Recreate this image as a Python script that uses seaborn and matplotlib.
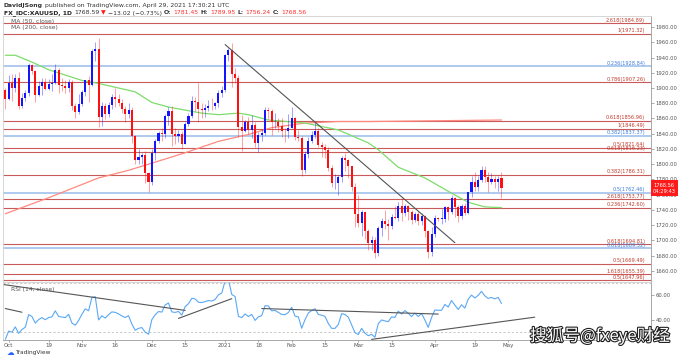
import numpy as np
import pandas as pd
import matplotlib
matplotlib.use("Agg")
import matplotlib.pyplot as plt
import matplotlib.patheffects as pe
import seaborn as sns

# ---- daily XAU/USD candles, Sep 30 2020 -> Apr 29 2021 ----
start_date = "2020-09-30"
end_date = "2021-04-29"
holidays = ["2020-12-25", "2021-01-01"]

opens = [1897,
         1886, 1906, 1900, 1913, 1877, 1887, 1893, 1930, 1922, 1891, 1902, 1908, 1899, 1905, 1907, 1924, 1904, 1902, 1900, 1908, 1877, 1868,
         1879, 1895, 1910, 1904, 1948, 1951, 1862, 1877, 1866, 1878, 1888, 1886, 1880, 1872, 1866, 1871, 1837, 1805, 1810, 1812, 1788,
         1776, 1815, 1830, 1841, 1839, 1863, 1870, 1839, 1837, 1840, 1827, 1853, 1863, 1883, 1881, 1872, 1871, 1874, 1877, 1876, 1880, 1893,
         1898, 1943, 1950, 1918, 1913, 1849, 1844, 1855, 1845, 1851, 1828, 1838, 1841, 1871, 1870, 1855, 1856, 1850, 1844, 1843,
         1848, 1860, 1836, 1834, 1793, 1813, 1831, 1838, 1843, 1825, 1823, 1819, 1795, 1775, 1775, 1783, 1808, 1805, 1797, 1770,
         1734, 1723, 1737, 1712, 1697, 1700, 1683, 1716, 1726, 1722, 1719, 1731, 1729, 1745, 1736, 1745, 1737, 1727, 1735, 1725, 1732, 1712, 1685,
         1708, 1729, 1728, 1728, 1744, 1737, 1756, 1744, 1732, 1745, 1736, 1763, 1777, 1770, 1779, 1793, 1783, 1777, 1780, 1777, 1781.45]
highs = [1900,
         1917, 1918, 1918, 1921, 1893, 1898, 1933, 1932, 1924, 1909, 1913, 1913, 1912, 1918, 1932, 1926, 1913, 1911, 1912, 1911, 1880, 1892,
         1897, 1911, 1916, 1951, 1960, 1965, 1882, 1880, 1882, 1892, 1900, 1892, 1885, 1876, 1880, 1875, 1838, 1820, 1815, 1817, 1790,
         1820, 1833, 1844, 1848, 1866, 1875, 1876, 1848, 1845, 1844, 1855, 1867, 1890, 1888, 1907, 1880, 1879, 1884, 1887, 1882, 1897, 1902,
         1944, 1952, 1959, 1926, 1917, 1864, 1858, 1862, 1865, 1855, 1842, 1846, 1875, 1875, 1872, 1867, 1861, 1860, 1848, 1866,
         1875, 1862, 1845, 1837, 1817, 1836, 1843, 1855, 1847, 1829, 1826, 1822, 1799, 1787, 1786, 1811, 1815, 1807, 1798, 1775,
         1760, 1740, 1739, 1715, 1706, 1704, 1719, 1730, 1740, 1728, 1734, 1745, 1750, 1755, 1748, 1746, 1740, 1737, 1739, 1736, 1733, 1714, 1717,
         1733, 1731, 1741, 1745, 1745, 1759, 1757, 1746, 1748, 1749, 1764, 1785, 1790, 1785, 1797, 1798, 1790, 1789, 1785, 1785, 1789.95]
lows = [1873,
        1884, 1883, 1895, 1873, 1874, 1883, 1890, 1918, 1882, 1889, 1891, 1897, 1898, 1896, 1905, 1894, 1896, 1894, 1895, 1871, 1860, 1866,
        1876, 1889, 1882, 1902, 1935, 1849, 1850, 1859, 1862, 1872, 1875, 1877, 1867, 1855, 1860, 1828, 1800, 1800, 1800, 1775, 1764,
        1773, 1805, 1828, 1831, 1834, 1852, 1824, 1826, 1829, 1820, 1826, 1850, 1861, 1870, 1855, 1860, 1862, 1870, 1871, 1872, 1875, 1888,
        1895, 1935, 1901, 1906, 1836, 1817, 1842, 1840, 1835, 1823, 1816, 1830, 1838, 1859, 1838, 1848, 1842, 1836, 1829, 1835,
        1847, 1832, 1830, 1785, 1789, 1808, 1828, 1834, 1822, 1809, 1808, 1791, 1770, 1767, 1760, 1777, 1791, 1782, 1765, 1717,
        1717, 1706, 1702, 1687, 1687, 1677, 1680, 1706, 1715, 1700, 1715, 1728, 1726, 1725, 1732, 1727, 1721, 1724, 1720, 1720, 1705, 1677, 1679,
        1705, 1725, 1722, 1724, 1727, 1734, 1731, 1724, 1728, 1733, 1734, 1757, 1765, 1765, 1776, 1777, 1763, 1774, 1769, 1765, 1756.24]
closes = [1886,
          1906, 1900, 1913, 1877, 1887, 1893, 1930, 1922, 1891, 1902, 1908, 1899, 1905, 1907, 1924, 1904, 1902, 1900, 1908, 1877, 1868, 1879,
          1895, 1910, 1904, 1948, 1951, 1862, 1877, 1866, 1878, 1888, 1886, 1880, 1872, 1866, 1871, 1837, 1805, 1810, 1812, 1788, 1776,
          1815, 1830, 1841, 1839, 1863, 1870, 1839, 1837, 1840, 1827, 1853, 1863, 1883, 1881, 1872, 1871, 1874, 1877, 1876, 1880, 1893, 1898,
          1943, 1950, 1918, 1913, 1849, 1844, 1855, 1845, 1851, 1828, 1838, 1841, 1871, 1870, 1855, 1856, 1850, 1844, 1843, 1848,
          1860, 1836, 1834, 1793, 1813, 1831, 1838, 1843, 1825, 1823, 1819, 1795, 1775, 1775, 1783, 1808, 1805, 1797, 1770, 1734,
          1723, 1737, 1712, 1697, 1700, 1683, 1716, 1726, 1722, 1719, 1731, 1729, 1745, 1736, 1745, 1737, 1727, 1735, 1725, 1732, 1712, 1685, 1708,
          1729, 1728, 1728, 1744, 1737, 1756, 1744, 1732, 1745, 1736, 1763, 1777, 1770, 1779, 1793, 1783, 1777, 1780, 1777, 1781, 1768.56]
# September closes, only used to warm up the RSI
sep_closes = [1970, 1944, 1930, 1933, 1928, 1931, 1946, 1946, 1940, 1956, 1954,
              1959, 1944, 1950, 1912, 1900, 1863, 1868, 1862, 1881, 1897]

# moving averages
ma50_dates = ["2020-09-30", "2020-10-05", "2020-10-12", "2020-10-19", "2020-10-26", "2020-11-02",
              "2020-11-09", "2020-11-16", "2020-11-20", "2020-11-24", "2020-12-01", "2020-12-08",
              "2020-12-15", "2020-12-22", "2020-12-30", "2021-01-08", "2021-01-13", "2021-01-21",
              "2021-02-05", "2021-02-19", "2021-03-04", "2021-03-09", "2021-03-17", "2021-03-29",
              "2021-04-08", "2021-04-15", "2021-04-22", "2021-04-29"]
ma50_values = [1943, 1943, 1934, 1924, 1917, 1910, 1906, 1901, 1897, 1895, 1881, 1875,
               1871, 1867, 1865, 1867, 1865, 1858, 1854, 1845, 1828, 1819, 1796, 1782,
               1762, 1750, 1744, 1743]
ma200_dates = ["2020-09-30", "2020-10-19", "2020-11-09", "2020-11-20", "2020-11-30", "2020-12-15",
               "2020-12-30", "2021-01-13", "2021-01-22", "2021-02-05", "2021-02-19", "2021-03-04",
               "2021-04-29"]
ma200_values = [1735, 1756, 1782, 1792, 1800, 1815, 1830, 1839, 1848, 1854, 1856, 1856, 1858]

# fibonacci levels
fib_labels = ["2.618", "1", "0.236", "0.786", "0.618", "1", "0.382", "0.5", "0.618",
              "0.382", "0.5", "2.618", "0.236", "0.618", "0.618", "0.5", "1.618", "0.5"]
fib_values = [1984.89, 1971.32, 1928.84, 1907.26, 1856.96, 1846.49, 1837.37, 1821.64, 1816.23,
              1786.31, 1762.46, 1753.77, 1742.60, 1694.81, 1689.52, 1669.49, 1655.39, 1647.96]
fib_kind = ["r", "r", "b", "r", "r", "r", "b", "r", "r",
            "r", "b", "r", "r", "r", "b", "r", "r", "r"]

# trendlines (date, value)
price_trend = [("2021-01-04", 1957), ("2021-04-09", 1697)]
rsi_trends = [[("2020-09-28", 69), ("2020-12-15", 47.5)],
              [("2020-09-30", 49), ("2020-10-07", 46)],
              [("2020-12-11", 41), ("2021-01-06", 57)],
              [("2021-01-19", 49), ("2021-04-02", 44.5)],
              [("2021-03-05", 24), ("2021-05-13", 42)]]

tick_dates = ["2020-10-01", "2020-10-19", "2020-11-02", "2020-11-16", "2020-12-01", "2020-12-15",
              "2021-01-04", "2021-01-18", "2021-02-01", "2021-02-15", "2021-03-01", "2021-03-15",
              "2021-04-01", "2021-04-19", "2021-05-03"]
tick_labels = ["Oct", "19", "Nov", "16", "Dec", "15", "2021", "18", "Feb", "15", "Mar", "15",
               "Apr", "19", "May"]

# ---- trading-day positions ----
days = pd.bdate_range("2020-09-01", "2021-06-30")
days = days[~days.isin(pd.to_datetime(holidays))]
pos = pd.Series(np.arange(len(days)), index=days)
def px(d):
    return pos[pd.Timestamp(d)]

bar_days = days[(days >= start_date) & (days <= end_date)]
df = pd.DataFrame({"date": bar_days, "open": opens, "high": highs, "low": lows, "close": closes})
df["x"] = [px(d) for d in df["date"]]

all_close = pd.Series(sep_closes + closes, dtype=float)
delta = all_close.diff()
gain = delta.clip(lower=0).ewm(alpha=1 / 14, adjust=False).mean()
loss = (-delta.clip(upper=0)).ewm(alpha=1 / 14, adjust=False).mean()
rsi = 100 - 100 / (1 + gain / loss)
df["rsi"] = rsi.iloc[len(sep_closes):].values

# ---- figure ----
sns.set_theme(style="white")
plt.rcParams["font.family"] = ["DejaVu Sans"]
W, H = 679, 358
fig = plt.figure(figsize=(W / 100, H / 100), dpi=100)
fig.patch.set_facecolor("white")
ax = fig.add_axes([3 / W, 1 - 282 / H, 648 / W, 266 / H])
ax_rsi = fig.add_axes([3 / W, 1 - 340 / H, 648 / W, 58 / H], sharex=ax)

UP, DN = "#1414ff", "#ff1010"
RED_LINE, BLUE_LINE = "#c85a5a", "#a9c6ee"
RED_TXT, BLUE_TXT = "#c0392b", "#3d7ddb"

x0 = px("2020-10-01")
ax.set_xlim(x0 - 1.7, x0 + 192.9)
ax.set_ylim(1645.4, 1994.5)

# fib lines
for lab, v, k in zip(fib_labels, fib_values, fib_kind):
    if k == "b":
        ax.axhline(v, color=BLUE_LINE, lw=1.3, zorder=1)
    else:
        ax.axhline(v, color=RED_LINE, lw=0.8, zorder=1)
    ax.text(0.991, v + 0.6, f"{lab}({v:.2f})", transform=ax.get_yaxis_transform(),
            ha="right", va="bottom", fontsize=3.6, color=BLUE_TXT if k == "b" else RED_TXT, zorder=5)

# moving averages
sns.lineplot(x=[px(d) for d in ma200_dates], y=ma200_values, ax=ax, color="#ff8a80", lw=0.9, zorder=2)
sns.lineplot(x=[px(d) for d in ma50_dates], y=ma50_values, ax=ax, color="#7ddc6a", lw=0.9, zorder=2)

# candles
up = df["close"] >= df["open"]
cols = np.where(up, UP, DN)
ax.vlines(df["x"], df["low"], df["high"], colors=cols, lw=0.7, alpha=0.4, zorder=3)
body = (df["close"] - df["open"]).abs().clip(lower=0.8)
ax.bar(df["x"], body, bottom=df[["open", "close"]].min(axis=1), width=0.62, color=cols, lw=0, zorder=4)

# price trendline
ax.plot([px(d) for d, _ in price_trend], [v for _, v in price_trend], color="#555555", lw=0.8, zorder=5)

# price axis
ax.yaxis.tick_right()
ax.set_yticks(np.arange(1660, 1981, 20))
ax.set_yticklabels([f"{t:.2f}" for t in np.arange(1660, 1981, 20)])
ax.tick_params(axis="y", labelsize=3.8, labelcolor="#555555", length=2, width=0.5, color="#888888", pad=1.5, right=True)
ax.tick_params(axis="x", bottom=False, labelbottom=False)
for s in ax.spines.values():
    s.set_color("#d0d0d0")
    s.set_linewidth(0.6)
ax.spines["right"].set_color("#9a9a9a")

# last price tag
ax.text(1.003, closes[-1], "1768.56\n04:29:43", transform=ax.get_yaxis_transform(), ha="left", va="center",
        fontsize=3.7, color="white", linespacing=1.2, clip_on=False,
        bbox=dict(boxstyle="square,pad=0.45", fc="#ff1a1a", ec="none"))

ax.text(8 / 648, 1 - 5 / 266, "MA (50, close)", transform=ax.transAxes, fontsize=4.3, color="#555555", va="center")
ax.text(8 / 648, 1 - 12 / 266, "MA (200, close)", transform=ax.transAxes, fontsize=4.3, color="#555555", va="center")

# ---- RSI pane ----
ax_rsi.set_ylim(23.5, 70.5)
ax_rsi.axhline(70, color="#b0b0b0", lw=0.5, ls=(0, (3, 3)))
ax_rsi.axhline(30, color="#b0b0b0", lw=0.5, ls=(0, (3, 3)))
sns.lineplot(data=df, x="x", y="rsi", ax=ax_rsi, color="#5aa8f5", lw=0.8)
for tl in rsi_trends:
    ax_rsi.plot([px(d) for d, _ in tl], [v for _, v in tl], color="#555555", lw=0.8)
ax_rsi.yaxis.tick_right()
ax_rsi.set_yticks([40, 60])
ax_rsi.set_yticklabels(["40.00", "60.00"])
ax_rsi.tick_params(axis="y", labelsize=3.8, labelcolor="#555555", length=2, width=0.5, color="#888888", pad=1.5, right=True)
ax_rsi.set_xticks([px(d) for d in tick_dates])
ax_rsi.set_xticklabels(tick_labels)
ax_rsi.tick_params(axis="x", labelsize=4.0, labelcolor="#555555", length=1.5, width=0.5, color="#888888", pad=1, bottom=True)
ax_rsi.set_xlabel("")
ax_rsi.set_ylabel("")
ax.set_xlabel("")
ax.set_ylabel("")
for s in ax_rsi.spines.values():
    s.set_color("#d0d0d0")
    s.set_linewidth(0.6)
ax_rsi.spines["right"].set_color("#9a9a9a")
ax_rsi.spines["bottom"].set_color("#9a9a9a")
ax_rsi.text(8 / 648, 1 - 7 / 58, "RSI (14, close)", transform=ax_rsi.transAxes, fontsize=4.3, color="#555555", va="center")

# ---- header ----
renderer = fig.canvas.get_renderer()
def chain(parts, x, y):
    for s, col, wt in parts:
        t = fig.text(x, y, s, color=col, fontsize=4.4, fontweight=wt, va="center")
        bb = t.get_window_extent(renderer=renderer)
        x = (bb.x1 + 2.0) / fig.bbox.width

chain([("DavidJSong", "#333333", "bold"),
       ("published on TradingView.com, April 29, 2021 17:30:21 UTC", "#333333", "normal")], 4 / W, 1 - 5 / H)
chain([("FX_IDC:XAUUSD, 1D", "#222222", "bold"), ("1768.59", "#333333", "normal"),
       ("▼", "#ff1a1a", "normal"), ("\u221213.02 (\u22120.73%)", "#333333", "normal"),
       ("O:", "#333333", "bold"), ("1781.45", "#ff3030", "normal"),
       ("H:", "#333333", "bold"), ("1789.95", "#ff3030", "normal"),
       ("L:", "#333333", "bold"), ("1756.24", "#ff3030", "normal"),
       ("C:", "#333333", "bold"), ("1768.56", "#ff3030", "normal")], 4 / W, 1 - 13 / H)

# footer
fig.text(7 / W, 1 - 352.5 / H, "\u2601", color="#2962ff", fontsize=5.5, va="center")
fig.text(15 / W, 1 - 352.5 / H, "TradingView", color="#333333", fontsize=4.2, va="center")
fig.text(530 / W, 1 - 336 / H, "搜狐号@fxeye财经", color="white", fontsize=12, va="center",
         family=["Noto Sans CJK SC", "DejaVu Sans"],
         path_effects=[pe.withStroke(linewidth=1.6, foreground="#222222")])

fig.savefig("out.png", dpi=100)
